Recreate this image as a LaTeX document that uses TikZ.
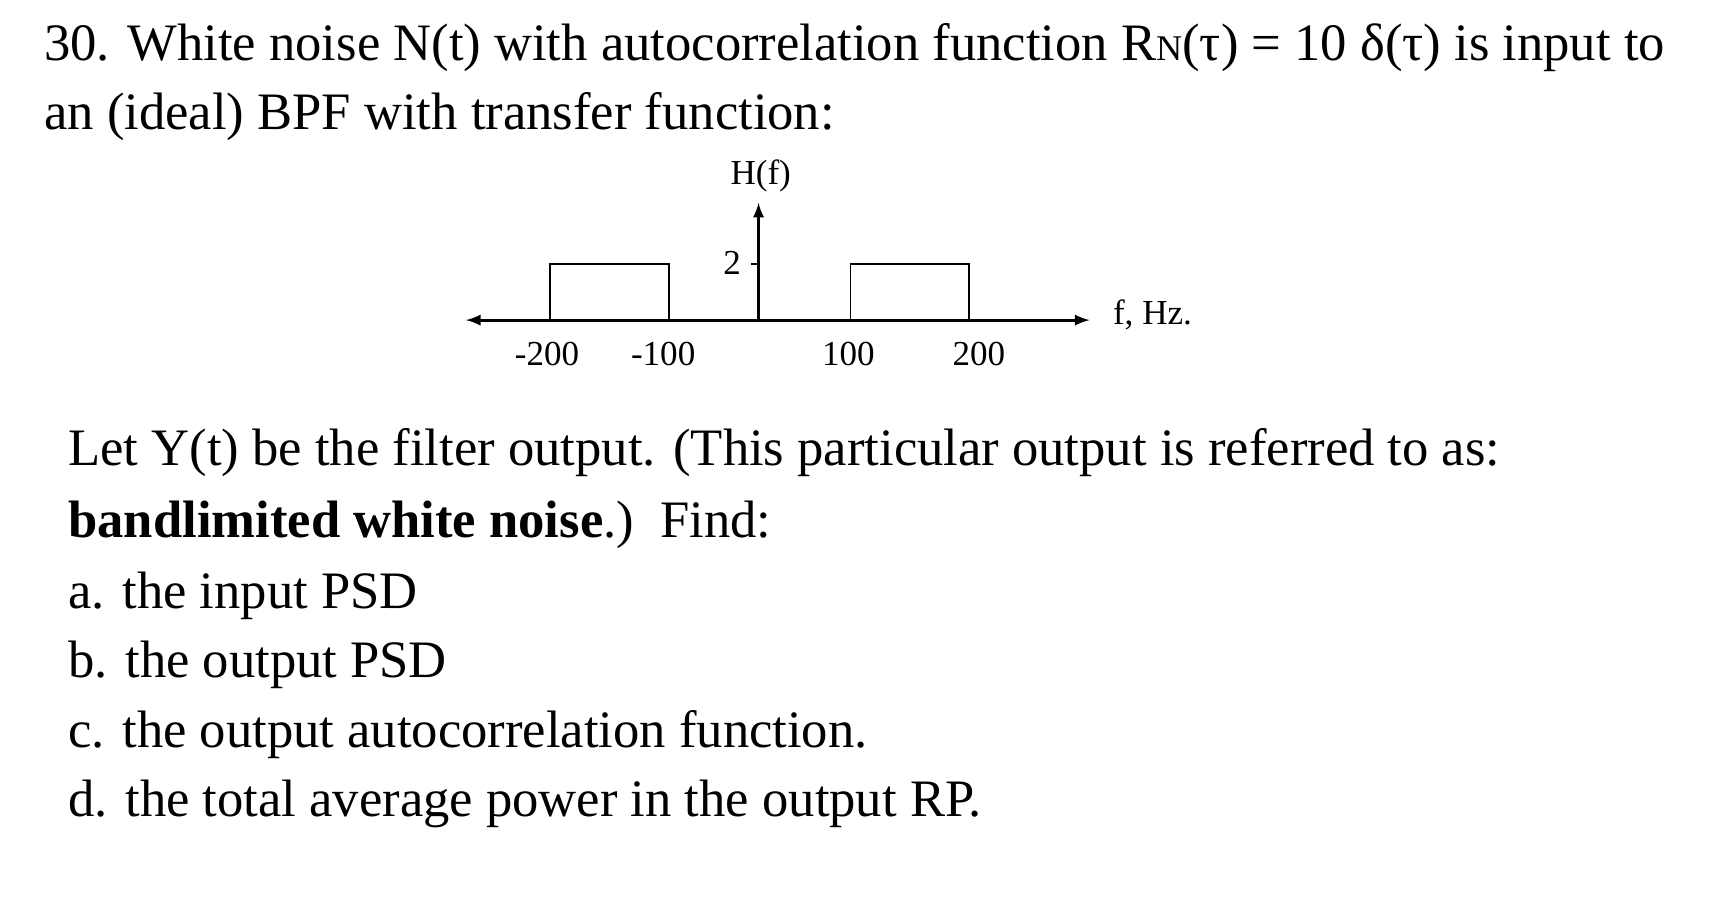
\documentclass[tikz,border=0pt]{standalone}
\usepackage{fontspec}
\setmainfont{Liberation Serif}
\begin{document}
\begin{tikzpicture}[x=0.5pt,y=-0.5pt,
  txt/.style={anchor=base west,inner sep=0pt,font=\fontsize{24}{28}\selectfont},
  lbl/.style={inner sep=0pt,font=\fontsize{16}{19}\selectfont},
  ax/.style={line width=1.3pt,-latex}]
\useasboundingbox (0,0) rectangle (1560,827);
\node[txt] (l1) at (40,55) {30. White noise N(t) with autocorrelation function R{\fontsize{16.5}{19}\selectfont N}(τ) = 10 δ(τ) is input to};
\node[txt] (l2) at (40,118) {an (ideal) BPF with transfer function:};
\coordinate (o) at (692,292);
\coordinate (xl) at (425,292);
\coordinate (xr) at (994,292);
\coordinate (yt) at (692,185);
\draw[ax] (o) -- (xl);
\draw[ax] (o) -- (xr);
\draw[ax] (o) -- (yt);
\draw[line width=0.8pt] (502,292) rectangle (610,241);
\draw[line width=0.8pt] (776,292) rectangle (884,241);
\draw[line width=0.8pt] (685,241) -- (692,241);
\node[lbl] (two) at (668,240) {2};
\node[lbl] (hf) at (694,160) {H(f)};
\node[lbl,anchor=west] (fhz) at (1015,287) {f, Hz.};
\node[lbl] (a) at (499,323) {-200};
\node[lbl] (b) at (605,323) {-100};
\node[lbl] (c) at (774,323) {100};
\node[lbl] (d) at (893,323) {200};
\node[txt] (t1) at (62,425) {Let Y(t) be the filter output. (This particular output is referred to as:};
\node[txt] (t2) at (62,490) {\textbf{bandlimited white noise}.)\ \ Find:};
\node[txt] (t3) at (62,555) {a. the input PSD};
\node[txt] (t4) at (62,618) {b. the output PSD};
\node[txt] (t5) at (62,682) {c. the output autocorrelation function.};
\node[txt] (t6) at (62,745) {d. the total average power in the output RP.};
\end{tikzpicture}
\end{document}
